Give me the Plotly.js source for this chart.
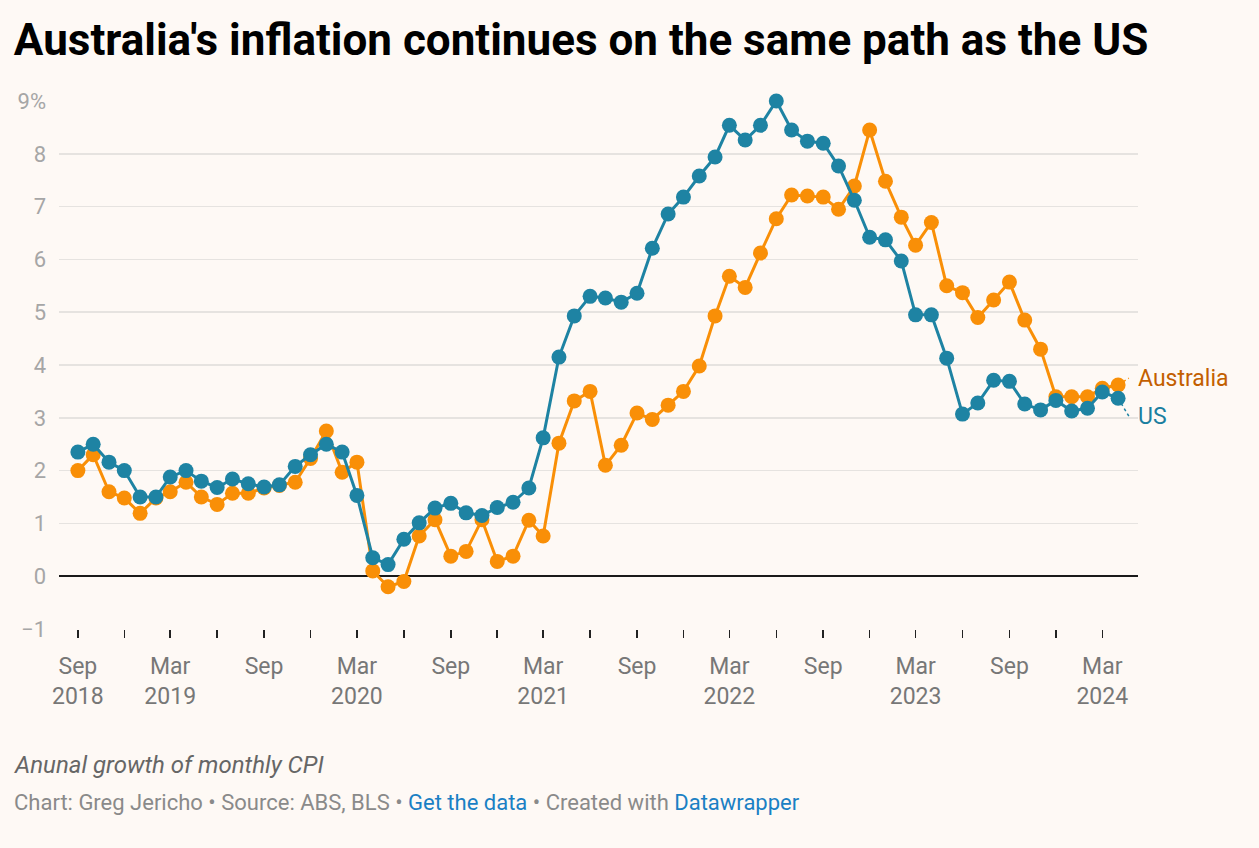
<!DOCTYPE html>
<html>
<head>
<meta charset="utf-8">
<script src="https://cdn.plot.ly/plotly-3.0.1.min.js"></script>
<style>
  html, body { margin: 0; padding: 0; background: #fef9f5; }
  #chart { width: 1259px; height: 848px; }
</style>
</head>
<body>
<div id="chart"></div>
<script>
// Monthly observations, Sep 2018 – Apr 2024
const months = [
  '2018-09-01','2018-10-01','2018-11-01','2018-12-01',
  '2019-01-01','2019-02-01','2019-03-01','2019-04-01','2019-05-01','2019-06-01',
  '2019-07-01','2019-08-01','2019-09-01','2019-10-01','2019-11-01','2019-12-01',
  '2020-01-01','2020-02-01','2020-03-01','2020-04-01','2020-05-01','2020-06-01',
  '2020-07-01','2020-08-01','2020-09-01','2020-10-01','2020-11-01','2020-12-01',
  '2021-01-01','2021-02-01','2021-03-01','2021-04-01','2021-05-01','2021-06-01',
  '2021-07-01','2021-08-01','2021-09-01','2021-10-01','2021-11-01','2021-12-01',
  '2022-01-01','2022-02-01','2022-03-01','2022-04-01','2022-05-01','2022-06-01',
  '2022-07-01','2022-08-01','2022-09-01','2022-10-01','2022-11-01','2022-12-01',
  '2023-01-01','2023-02-01','2023-03-01','2023-04-01','2023-05-01','2023-06-01',
  '2023-07-01','2023-08-01','2023-09-01','2023-10-01','2023-11-01','2023-12-01',
  '2024-01-01','2024-02-01','2024-03-01','2024-04-01'
];

// Annual growth of monthly CPI, %
const australia = [
  2.0, 2.3, 1.6, 1.48,
  1.19, 1.48, 1.6, 1.78, 1.5, 1.36, 1.57, 1.57, 1.67, 1.72, 1.78, 2.23,
  2.75, 1.97, 2.16, 0.1, -0.2, -0.1, 0.76, 1.07, 0.38, 0.47, 1.07, 0.28,
  0.38, 1.06, 0.76, 2.52, 3.32, 3.5, 2.1, 2.48, 3.09, 2.97, 3.24, 3.5,
  3.98, 4.93, 5.68, 5.47, 6.12, 6.77, 7.22, 7.2, 7.18, 6.95, 7.39, 8.45,
  7.48, 6.8, 6.27, 6.7, 5.5, 5.37, 4.9, 5.23, 5.57, 4.85, 4.3, 3.4,
  3.4, 3.4, 3.56, 3.62
];
const us = [
  2.35, 2.5, 2.16, 2.0,
  1.5, 1.5, 1.88, 2.0, 1.8, 1.68, 1.84, 1.75, 1.69, 1.73, 2.08, 2.3,
  2.5, 2.35, 1.53, 0.35, 0.22, 0.7, 1.01, 1.29, 1.38, 1.2, 1.15, 1.3,
  1.4, 1.67, 2.62, 4.15, 4.93, 5.3, 5.27, 5.19, 5.36, 6.21, 6.86, 7.18,
  7.58, 7.94, 8.54, 8.26, 8.54, 9.0, 8.45, 8.24, 8.2, 7.77, 7.12, 6.42,
  6.37, 5.97, 4.95, 4.95, 4.13, 3.07, 3.28, 3.71, 3.69, 3.26, 3.15, 3.33,
  3.13, 3.18, 3.49, 3.37
];

// Quarterly tick marks; labels every half year
const tickDates = [
  '2018-09-01','2018-12-01','2019-03-01','2019-06-01','2019-09-01','2019-12-01',
  '2020-03-01','2020-06-01','2020-09-01','2020-12-01','2021-03-01','2021-06-01',
  '2021-09-01','2021-12-01','2022-03-01','2022-06-01','2022-09-01','2022-12-01',
  '2023-03-01','2023-06-01','2023-09-01','2023-12-01','2024-03-01'
];
const tickLabels = [
  'Sep<br>2018','','Mar<br>2019','','Sep','',
  'Mar<br>2020','','Sep','','Mar<br>2021','',
  'Sep','','Mar<br>2022','','Sep','',
  'Mar<br>2023','','Sep','','Mar<br>2024'
];
const yTickVals = [-1, 0, 1, 2, 3, 4, 5, 6, 7, 8, 9];
const yTickLabels = ['\u22121', '0', '1', '2', '3', '4', '5', '6', '7', '8', '9%'];

const seriesNames = ['Australia', 'US'];
const ORANGE = '#f98f07';
const BLUE = '#1e83a3';
const BG = '#fef9f5';

const last = months.length - 1;
const auLabelY = australia[last] + 0.13;
const usLabelY = us[last] - 0.34;
const leaderEnd = '2024-04-22';

const lineTrace = (name, ys, color) => ({
  type: 'scatter', mode: 'lines+markers', name,
  x: months, y: ys,
  line: { color, width: 3 },
  marker: { color, size: 15 },
  cliponaxis: false,
  hoverinfo: 'x+y', showlegend: false
});
const leader = (ys, endY, color) => ({
  type: 'scatter', mode: 'lines',
  x: [months[last], leaderEnd], y: [ys[last], endY],
  line: { color, width: 1.5, dash: 'dot' },
  cliponaxis: false,
  hoverinfo: 'skip', showlegend: false
});

const data = [
  leader(australia, auLabelY, ORANGE),
  leader(us, usLabelY, BLUE),
  lineTrace(seriesNames[0], australia, ORANGE),
  lineTrace(seriesNames[1], us, BLUE)
];

const layout = {
  width: 1259, height: 848,
  paper_bgcolor: BG, plot_bgcolor: BG,
  font: { family: 'Roboto, sans-serif', color: '#333' },
  margin: { l: 59, r: 121, t: 101, b: 219 },
  title: {
    text: "<b>Australia's inflation continues on the same path as the US</b>",
    font: { family: 'Roboto, sans-serif', size: 44, color: '#000' },
    xref: 'container', x: 0.011, xanchor: 'left',
    yref: 'container', y: 1 - 40 / 848, yanchor: 'middle'
  },
  xaxis: {
    type: 'date',
    range: ['2018-07-26', '2024-05-10'],
    tickmode: 'array', tickvals: tickDates, ticktext: tickLabels,
    ticks: 'outside', ticklen: 8, tickwidth: 1.5, tickcolor: '#222',
    ticklabelstandoff: 8,
    showgrid: false, zeroline: false, showline: false,
    tickfont: { size: 23, color: '#777' },
    fixedrange: true
  },
  yaxis: {
    range: [-1, 9],
    tickmode: 'array', tickvals: yTickVals, ticktext: yTickLabels,
    showgrid: true, gridcolor: '#e6e3e0', gridwidth: 1.5,
    zeroline: true, zerolinecolor: '#1a1a1a', zerolinewidth: 1.5,
    showline: false, ticks: '',
    tickfont: { size: 22, color: '#a6a6a6' },
    ticklabelstandoff: 12,
    fixedrange: true
  },
  annotations: [
    {
      text: seriesNames[0], xref: 'paper', x: 1, xanchor: 'left', xshift: -2,
      yref: 'y', y: auLabelY, yanchor: 'middle', showarrow: false,
      font: { size: 23, color: '#c35f00' }
    },
    {
      text: seriesNames[1], xref: 'paper', x: 1, xanchor: 'left', xshift: -2,
      yref: 'y', y: usLabelY, yanchor: 'middle', showarrow: false,
      font: { size: 23, color: '#1b7fa0' }
    },
    {
      text: '<i>Anunal growth of monthly CPI</i>',
      xref: 'paper', x: -47 / 1079, xanchor: 'left',
      yref: 'paper', y: (629 - 765) / 528, yanchor: 'middle', showarrow: false,
      font: { size: 24, color: '#666' }
    },
    {
      text: 'Chart: Greg Jericho \u2022 Source: ABS, BLS \u2022 <span style="color:#1a80c4">Get the data</span> \u2022 Created with <span style="color:#1a80c4">Datawrapper</span>',
      xref: 'paper', x: -47 / 1079, xanchor: 'left',
      yref: 'paper', y: (629 - 802) / 528, yanchor: 'middle', showarrow: false,
      font: { size: 22, color: '#8a8a8a' }
    }
  ]
};

Plotly.newPlot('chart', data, layout, { displayModeBar: false, staticPlot: true });
</script>
</body>
</html>
